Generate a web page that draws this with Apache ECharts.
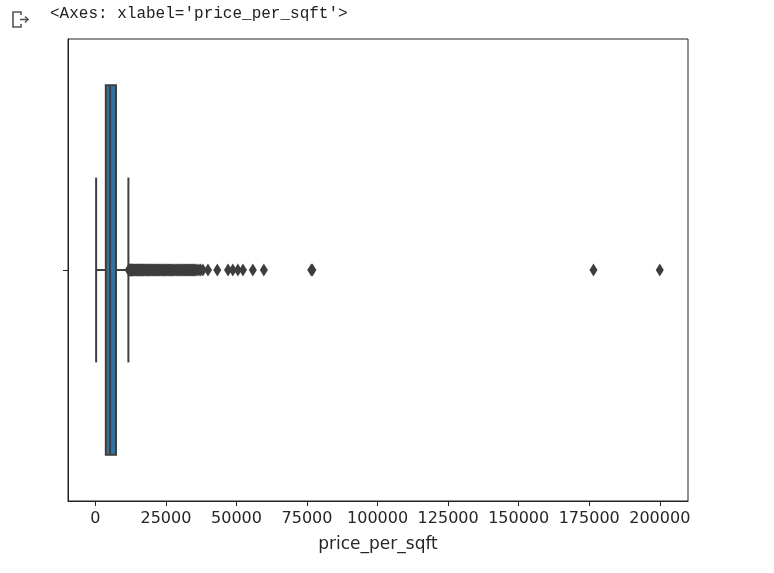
<!DOCTYPE html>
<html><head><meta charset="utf-8">
<script src="https://cdn.jsdelivr.net/npm/echarts@6/dist/echarts.min.js"></script>
<style>html,body{margin:0;padding:0;background:#fff}#c{width:774px;height:573px}</style>
</head><body><div id="c"></div>
<script>
// ---- data ----
const categories = [''];
// [lower whisker, Q1, median, Q3, upper whisker]
const boxStats = [267, 3700, 5200, 7300, 11700];
const outliers = [
  11800, 12000, 12200, 12400, 12500, 12700, 12800, 13000, 13200, 13300,
  13600, 13800, 14000, 14300, 14500, 14700, 15000, 15200, 15400, 15600,
  15800, 16000, 16200, 16400, 16600, 16800, 17000, 17200, 17500, 17700,
  18000, 18200, 18400, 18700, 18900, 19100, 19400, 19700, 20000, 20300,
  20500, 20800, 21000, 21300, 21600, 21900, 22200, 22500, 22800, 23000,
  23300, 23700, 24000, 24300, 24600, 24800, 25000, 25400, 25700, 26000,
  26300, 26600, 27000, 27200, 27500, 27900, 28200, 28600, 28900, 29300,
  29600, 29900, 30200, 30600, 31000, 31300, 31600, 32000, 32300, 32700,
  33000, 33400, 33700, 34100, 34500, 34800, 35200, 35600, 36000, 36700,
  37300, 38100, 39900, 43200, 47000, 48700, 50500, 52300, 55800, 59700,
  76500, 76900, 176500, 200000
];
const tickValues = [0, 25000, 50000, 75000, 100000, 125000, 150000, 175000, 200000];
const xRange = [-9700, 210000];
const headerText = "<Axes: xlabel='price_per_sqft'>";
const xLabel = 'price_per_sqft';

// ---- chart ----
const chart = echarts.init(document.getElementById('c'), null, {renderer: 'canvas'});
const EDGE = '#3f3f3f';
const BOX = '#3274a1';

chart.setOption({
  animation: false,
  backgroundColor: '#fff',
  grid: {left: 68, right: 86, top: 39, bottom: 72, show: true, borderColor: '#222', borderWidth: 1},
  xAxis: {
    type: 'value', min: xRange[0], max: xRange[1],
    splitLine: {show: false},
    axisLine: {show: true, onZero: false, lineStyle: {color: '#222', width: 1}},
    axisTick: {show: true, customValues: tickValues, length: 5, lineStyle: {color: '#222'}},
    axisLabel: {customValues: tickValues, formatter: v => String(v), fontSize: 16, color: '#262626', fontFamily: 'DejaVu Sans', margin: 10},
    name: xLabel, nameLocation: 'middle', nameGap: 35,
    nameTextStyle: {fontSize: 17, color: '#262626', fontFamily: 'DejaVu Sans'}
  },
  yAxis: {
    type: 'category', data: categories,
    axisLine: {show: true, onZero: false, lineStyle: {color: '#222', width: 1}},
    axisTick: {show: true, alignWithLabel: true, length: 5, lineStyle: {color: '#222'}},
    axisLabel: {show: false},
    splitLine: {show: false}
  },
  graphic: [
    {type: 'text', left: 50, top: 6, style: {text: headerText, font: '16px "Liberation Mono", "DejaVu Sans Mono", monospace', fill: '#212121'}},
    {type: 'polyline', shape: {points: [[21,15],[21,12],[13,12],[13,27],[21,27],[21,24]]}, style: {stroke: '#555', lineWidth: 1.6, fill: null}},
    {type: 'polyline', shape: {points: [[20,19.5],[28,19.5]]}, style: {stroke: '#555', lineWidth: 1.6, fill: null}},
    {type: 'polyline', shape: {points: [[25,16.5],[28,19.5],[25,22.5]]}, style: {stroke: '#555', lineWidth: 1.6, fill: null}}
  ],
  series: [
    {
      type: 'custom',
      data: [[0].concat(boxStats)],
      encode: {x: [1,2,3,4,5], y: 0},
      z: 2,
      renderItem: function (params, api) {
        const yi = api.value(0);
        const lo = api.coord([api.value(1), yi]);
        const q1 = api.coord([api.value(2), yi]);
        const md = api.coord([api.value(3), yi]);
        const q3 = api.coord([api.value(4), yi]);
        const hi = api.coord([api.value(5), yi]);
        const band = api.size([0, 1])[1];
        const h = band * 0.8;
        const cy = lo[1];
        const ls = {stroke: EDGE, lineWidth: 2};
        return {
          type: 'group',
          children: [
            {type: 'line', shape: {x1: lo[0], y1: cy, x2: q1[0], y2: cy}, style: ls},
            {type: 'line', shape: {x1: q3[0], y1: cy, x2: hi[0], y2: cy}, style: ls},
            {type: 'line', shape: {x1: lo[0], y1: cy - h/4, x2: lo[0], y2: cy + h/4}, style: ls},
            {type: 'line', shape: {x1: hi[0], y1: cy - h/4, x2: hi[0], y2: cy + h/4}, style: ls},
            {type: 'rect', shape: {x: q1[0], y: cy - h/2, width: q3[0] - q1[0], height: h}, style: {fill: BOX, stroke: EDGE, lineWidth: 2}},
            {type: 'line', shape: {x1: md[0], y1: cy - h/2, x2: md[0], y2: cy + h/2}, style: ls}
          ]
        };
      }
    },
    {
      type: 'scatter',
      data: outliers.map(v => [v, 0]),
      symbol: 'diamond',
      symbolSize: [8, 13],
      itemStyle: {color: '#3d3d3d', opacity: 1},
      z: 3
    }
  ]
});
</script>
</body></html>
